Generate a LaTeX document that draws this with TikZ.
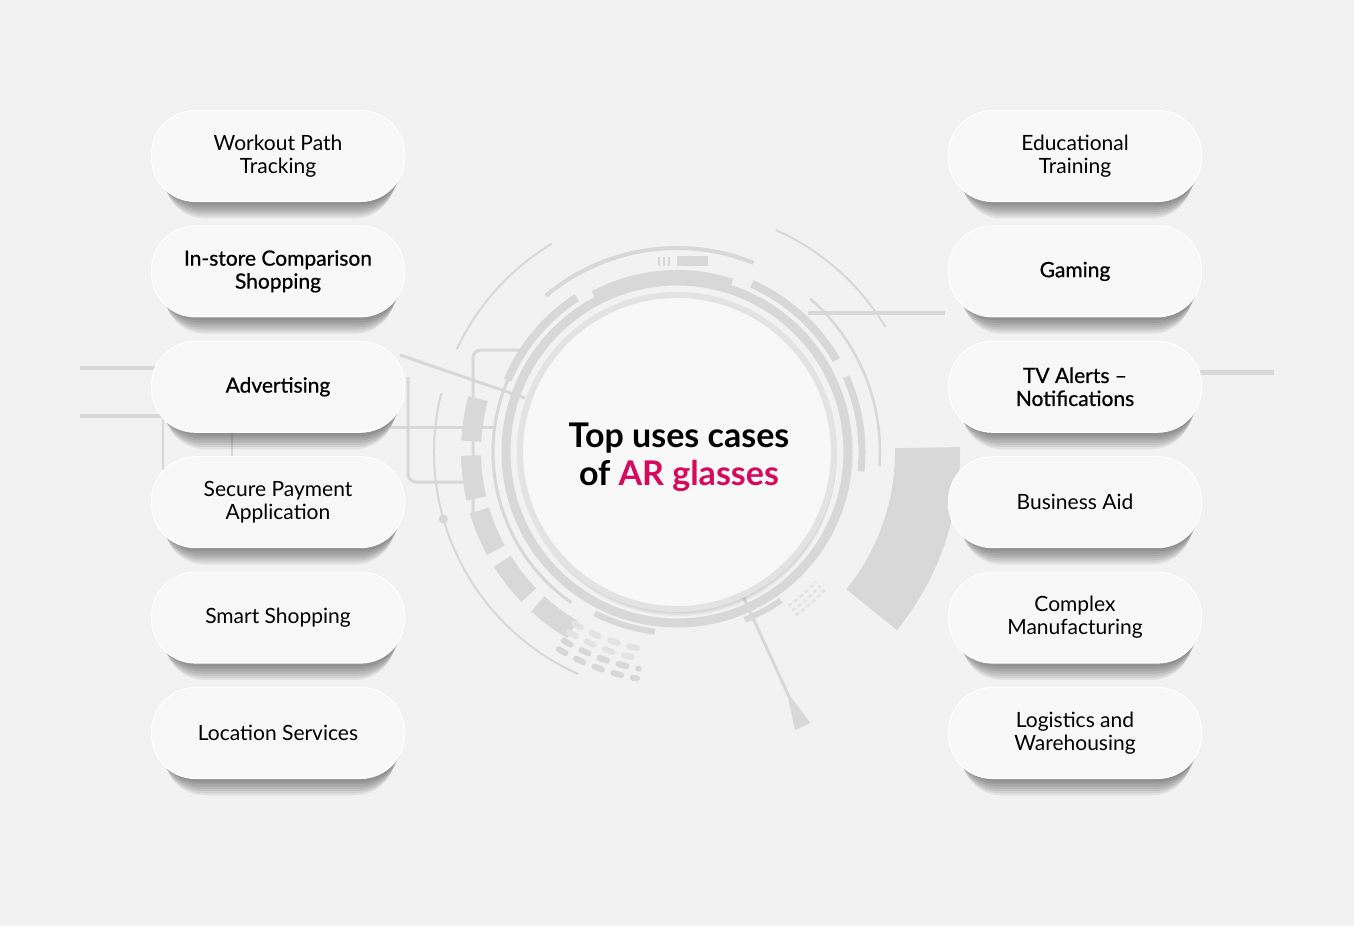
\documentclass[tikz,border=0pt]{standalone}
\usepackage{fontspec}
\setmainfont{Lato}[Ligatures=TeX]
\newfontfamily\medfont{Lato}[FakeBold=0.6]
\usetikzlibrary{positioning,shadows}

\definecolor{bggray}{HTML}{F2F2F2}
\definecolor{pillwhite}{HTML}{F8F8F8}
\definecolor{decogray}{HTML}{D8D8D8}
\definecolor{lightdeco}{HTML}{E3E3E3}
\definecolor{arpink}{HTML}{D6095D}

\tikzset{
  deco/.style={draw=decogray, line width=3pt},
  pshade/.style 2 args={general shadow={fill=black, fill opacity=0.065, shadow xshift=2pt,
    shadow yshift=-#1, shadow scale=#2}},
  usecase/.style={rectangle, rounded corners=44pt, minimum width=253pt, minimum height=91pt,
    fill=pillwhite, draw=white, line width=1pt, align=center, text=black,
    font=\fontsize{21}{23}\selectfont,
    pshade={2pt}{0.98}, pshade={5pt}{0.97}, pshade={8pt}{0.96}, pshade={11pt}{0.95},
    pshade={14pt}{0.94}, pshade={17pt}{0.93}, pshade={20pt}{0.92}, pshade={23pt}{0.91}},
  medcase/.style={font=\medfont\fontsize{21}{23}\selectfont},
  hubshade/.style={general shadow={fill=black, fill opacity=0.04, shadow xshift=1pt,
    shadow yshift=-#1, shadow scale=1.01}},
}

\begin{document}
\begin{tikzpicture}[x=1pt, y=-1pt, node distance=23.4pt]
        % Canvas
        \useasboundingbox (0,0) rectangle (1354,926);
        \fill[bggray] (0,0) rectangle (1354,926);
        \coordinate (c) at (677,452);
        % Lines behind the left column
        \draw[deco, line width=4pt] (80,368) -- (155,368);
        \draw[deco, line width=4pt] (80,416) -- (165,416);
        \draw[deco, line width=2pt] (163,416) -- (163,470);
        \draw[deco, line width=2pt] (232,430) -- (232,456);
        \draw[deco] (400,355) -- (525,398);
        \draw[deco] (390,427) -- (493,427);
        \draw[deco, rounded corners=8pt] (520,350) -- (473,350) -- (473,520);
        \draw[deco, rounded corners=8pt] (408,377) -- (408,482) -- (465,482);
        % Lines behind the right column
        \draw[deco, line width=4pt] (808,313) -- (945,313);
        \draw[deco, line width=5pt] (1200,372) -- (1274,372);
        % Rings round the hub
        \begin{scope}[shift={(c)}]
          \fill[decogray] (-1:218) arc (-1:39:218) -- (39:283) arc (39:-1:283) -- cycle;
          \draw[deco, line width=2pt] (-155:243) arc (-155:-121:243);
          \draw[deco, line width=2pt] (-66:243) arc (-66:-31:243);
          \draw[deco, line width=2pt] (114:243) arc (114:194:243);
          \fill[decogray] (164:243) circle (4.5);
          \draw[deco, line width=2.5pt] (-49:203) arc (-49:4:203);
          \draw[deco, line width=4pt] (-130:204) arc (-130:-68:204);
          \foreach \a in {189,173,157.5,142,126.5}
            \draw[deco, line width=20pt] (\a-6:206) arc (\a-6:\a+6:206);
          \foreach \r/\col in {200/lightdeco,210/lightdeco,220/decogray,230/decogray}
            \draw[draw=\col, line width=6pt, line cap=round, dash pattern=on 8pt off 12pt] (121:\r) arc (121:100:\r);
          \foreach \r in {190,196,202}
            \draw[draw=lightdeco, line width=2.5pt, dash pattern=on 4pt off 3pt] (54:\r) arc (54:43:\r);
          \draw[deco, line width=8pt] (-157:184) arc (-157:-123:184);
          \draw[deco, line width=8pt] (-118:178) arc (-118:-72:178);
          \draw[deco, line width=8pt] (-66:184) arc (-66:-30:184);
          \draw[deco, line width=7pt] (-24:185) arc (-24:6:185);
          \draw[deco, line width=6pt] (97:181) arc (97:117:181);
          \draw[deco, line width=6pt] (55:181) arc (55:68:181);
          \draw[deco, line width=3pt] (125:184) arc (125:205:184);
          \draw[deco, line width=9pt] (0,0) circle (171);
          \draw[deco, line width=3pt] (65.4:160) -- (65.4:276);
          \fill[decogray] (65:272) -- (65.8:272) -- (67:302) -- (63.8:302) -- cycle;
        \end{scope}
        \fill[decogray] (658,257) rectangle (660,266);
        \fill[decogray] (663,257) rectangle (665,266);
        \fill[decogray] (668,257) rectangle (670,266);
        \fill[decogray] (677,256) rectangle (708,266);
        % Hub
        \node[circle, minimum size=314pt, fill=pillwhite, draw=lightdeco, line width=6pt,
          hubshade=1pt, hubshade=2.5pt, hubshade=4pt, hubshade=5.5pt] (hub) at (c) {};
        \node[align=center, font=\bfseries\fontsize{34}{38}\selectfont] (title) at (679,457)
          {Top uses cases\\of \textcolor{arpink}{AR glasses}};
        % Left column
        \node[usecase] (workout) at (278,156) {Workout Path\\Tracking};
        \node[usecase, medcase, below=of workout] (instore) {In-store Comparison\\Shopping};
        \node[usecase, medcase, below=of instore] (advert) {Advertising};
        \node[usecase, below=of advert] (payment) {Secure Payment\\Application};
        \node[usecase, below=of payment] (smartshop) {Smart Shopping};
        \node[usecase, below=of smartshop] (location) {Location Services};
        % Right column
        \node[usecase] (training) at (1075,156) {Educational\\Training};
        \node[usecase, medcase, below=of training] (gaming) {Gaming};
        \node[usecase, medcase, below=of gaming] (alerts) {TV Alerts –\\Notifications};
        \node[usecase, below=of alerts] (business) {Business Aid};
        \node[usecase, below=of business] (manufact) {Complex\\Manufacturing};
        \node[usecase, below=of manufact] (logistics) {Logistics and\\Warehousing};
\end{tikzpicture}
\end{document}
